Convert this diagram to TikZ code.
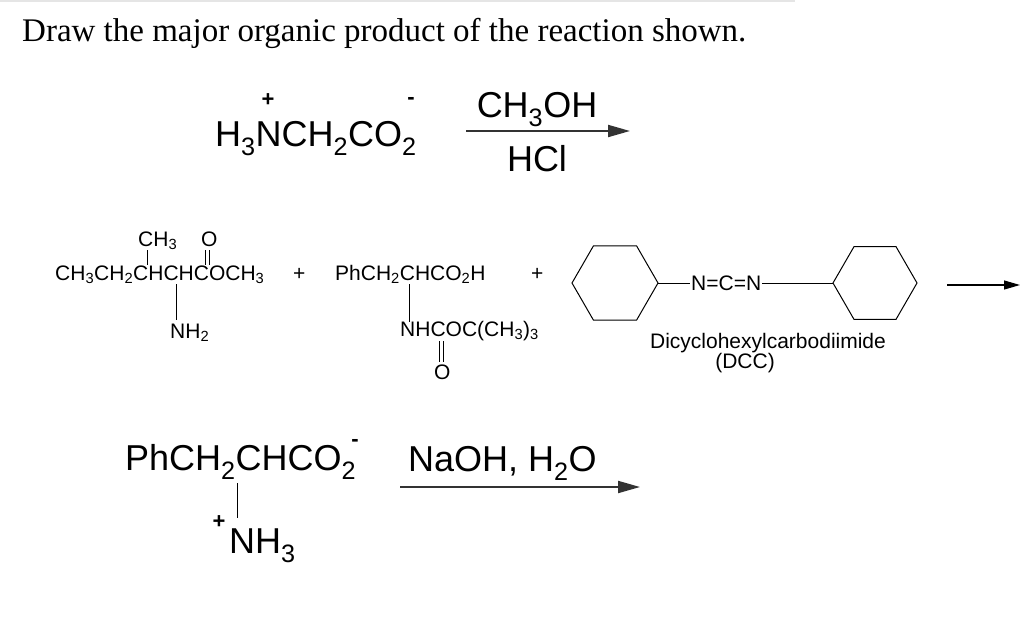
\documentclass[tikz,border=0pt]{standalone}
\usepackage{fontspec}
\setmainfont{Liberation Sans}
\newfontfamily\titlefont{Liberation Serif}
\usetikzlibrary{arrows.meta}
\newcommand{\sbs}[1]{\textsubscript{#1}}
\begin{document}
\begin{tikzpicture}[x=1pt,y=-1pt,
  big/.style={font=\fontsize{36}{38}\selectfont,inner sep=0pt,anchor=base west},
  sm/.style={font=\fontsize{21}{22}\selectfont,inner sep=0pt,anchor=base west},
  chg/.style={font=\bfseries\fontsize{22}{22}\selectfont,inner sep=0pt},
  bond/.style={line width=1pt},
  rxn/.style={line width=2pt,draw=black!80,-{Triangle[length=22pt,width=12pt]}}]
\useasboundingbox (0,0) rectangle (1024,616);
\draw[gray!20,line width=2pt] (0,1) -- (795,1);
\node[inner sep=0pt,anchor=base west,font=\titlefont\fontsize{33}{34}\selectfont] (title) at (22,41) {Draw the major organic product of the reaction shown.};
% first reaction
\node[big] (gly) at (215,146) {H\sbs{3}NCH\sbs{2}CO\sbs{2}};
\node[chg] (plus1) at (268,100) {+};
\node[chg] (minus1) at (411,101) {-};
\coordinate (a1s) at (466,131);
\coordinate (a1e) at (630,131);
\draw[rxn] (a1s) -- (a1e);
\node[big,anchor=base] (meoh) at (537,117) {CH\sbs{3}OH};
\node[big,anchor=base] (hcl) at (537,171) {HCl};
% second row
\node[sm] (ile) at (55,280) {CH\sbs{3}CH\sbs{2}CHCHCOCH\sbs{3}};
\node[sm] (me) at (138,246) {CH\sbs{3}};
\node[sm] (o1) at (201,246) {O};
\node[sm] (nh2) at (170,338) {NH\sbs{2}};
\draw[bond] (147,250) -- (147,265);
\draw[bond] (205,250) -- (205,265);
\draw[bond] (209,250) -- (209,265);
\draw[bond] (176,284) -- (176,320);
\node[sm] (p1) at (293,280) {+};
\node[sm] (phe) at (335,280) {PhCH\sbs{2}CHCO\sbs{2}H};
\draw[bond] (409,284) -- (409,322);
\node[sm] (boc) at (400,336) {NHCOC(CH\sbs{3})\sbs{3}};
\draw[bond] (439,341) -- (439,362);
\node[sm] (o2) at (434,379) {O};
\draw[bond] (443,341) -- (443,362);
\node[sm] (p2) at (531,280) {+};
% DCC
\draw[bond] (615,283) +(180:43) -- +(120:43) -- +(60:43) -- +(0:43) -- +(-60:43) -- +(-120:43) -- cycle;
\draw[bond] (875,283) +(180:42) -- +(120:42) -- +(60:42) -- +(0:42) -- +(-60:42) -- +(-120:42) -- cycle;
\node[sm,anchor=west,inner xsep=1pt] (ncn) at (690,283) {N=C=N};
\draw[bond] (658,283) -- (ncn.west);
\draw[bond] (ncn.east) -- (833,283);
\node[sm,anchor=base] (dccname) at (768,348) {Dicyclohexylcarbodiimide};
\node[sm,anchor=base] (dcc) at (745,368) {(DCC)};
\coordinate (a2s) at (947,285);
\coordinate (a2e) at (1020,285);
\draw[line width=1.2pt,-{Triangle[length=16pt,width=9pt]}] (a2s) -- (a2e);
% third row
\node[big] (phez) at (125,470) {PhCH\sbs{2}CHCO\sbs{2}};
\node[chg] (minus2) at (355,443) {-};
\draw[bond] (237,483) -- (237,518);
\node[chg] (plus2) at (219,522) {+};
\node[big] (nh3) at (229,553) {NH\sbs{3}};
\node[big] (naoh) at (408,471) {NaOH, H\sbs{2}O};
\coordinate (a3s) at (400,487);
\coordinate (a3e) at (640,487);
\draw[rxn] (a3s) -- (a3e);
\end{tikzpicture}
\end{document}
